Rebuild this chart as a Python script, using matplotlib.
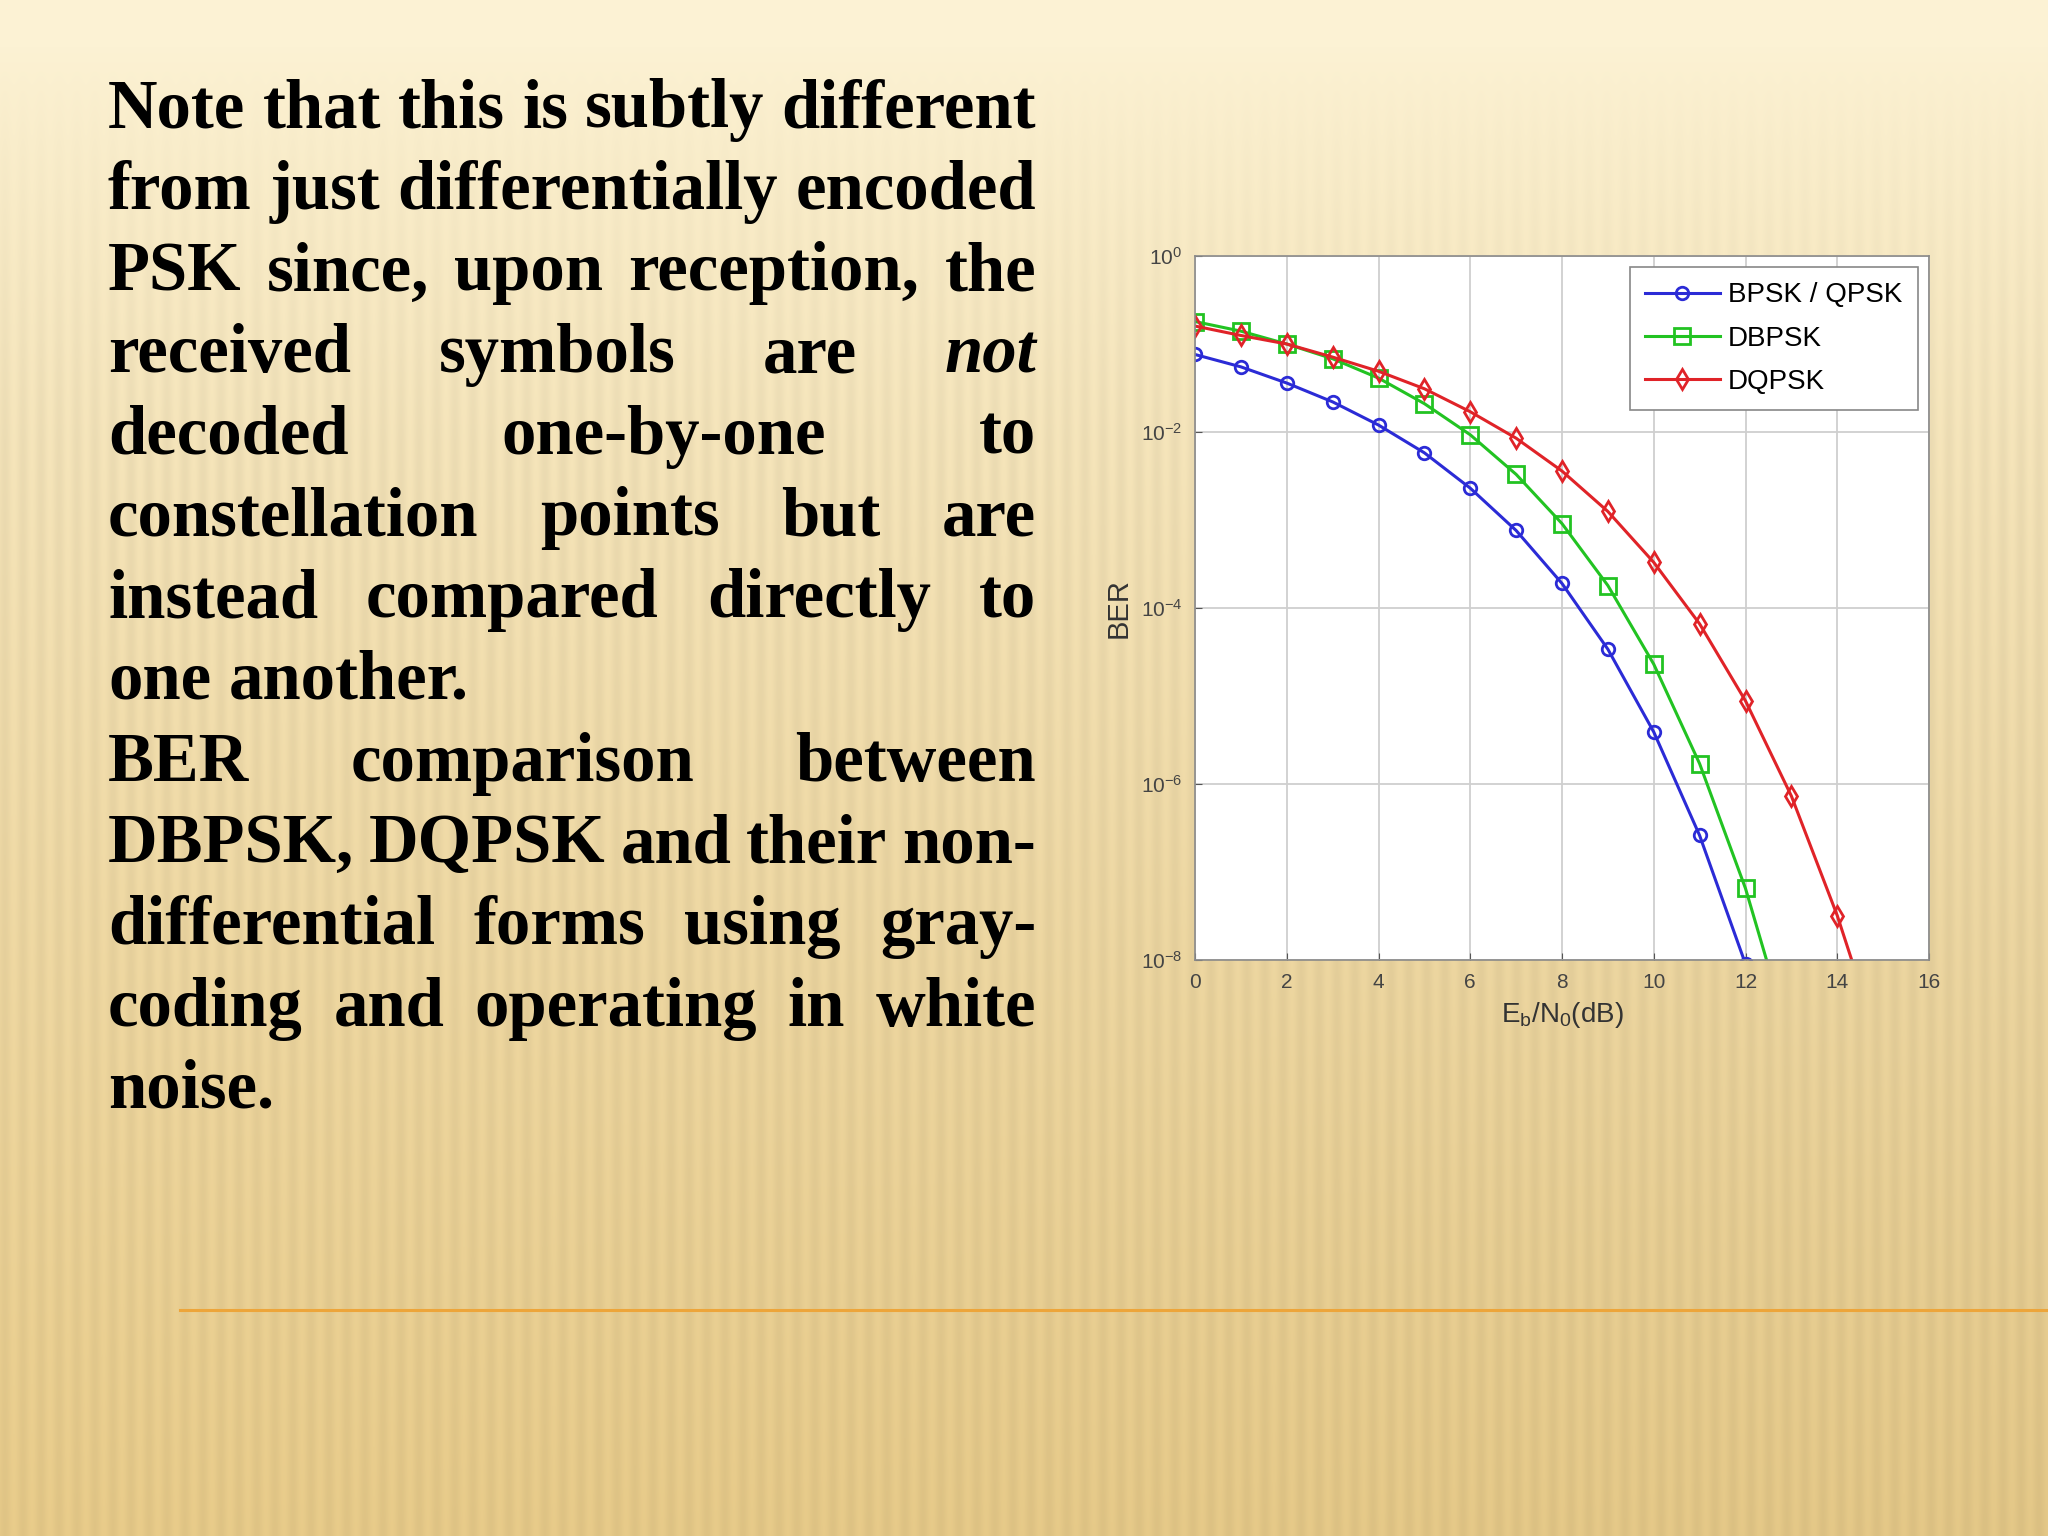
import numpy as np
import matplotlib
matplotlib.use('Agg')
import matplotlib.pyplot as plt
from matplotlib.lines import Line2D
from matplotlib.transforms import IdentityTransform
from matplotlib.ticker import NullLocator

plt.rcParams['font.family'] = ['Liberation Sans', 'DejaVu Sans']
plt.rcParams['mathtext.default'] = 'regular'

# ---------------- data ----------------
ebn0_bpsk = [0, 1, 2, 3, 4, 5, 6, 7, 8, 9, 10, 11, 12]
ber_bpsk = [0.076, 0.055, 0.036, 0.022, 0.012, 0.0058, 0.0023, 7.6e-4, 1.9e-4,
            3.4e-5, 3.9e-6, 2.6e-7, 9.0e-9]
ebn0_dbpsk = [0, 1, 2, 3, 4, 5, 6, 7, 8, 9, 10, 11, 12, 13]
ber_dbpsk = [0.18, 0.14, 0.10, 0.068, 0.041, 0.021, 0.0093, 0.0033, 9.1e-4,
             1.8e-4, 2.3e-5, 1.7e-6, 6.5e-8, 1.1e-9]
ebn0_dqpsk = [0, 1, 2, 3, 4, 5, 6, 7, 8, 9, 10, 11, 12, 13, 14, 15]
ber_dqpsk = [0.16, 0.125, 0.10, 0.071, 0.049, 0.031, 0.017, 0.0085, 0.0036,
             0.00125, 3.3e-4, 6.6e-5, 8.8e-6, 7.3e-7, 3.2e-8, 8e-10]
series_labels = ['BPSK / QPSK', 'DBPSK', 'DQPSK']
x_ticks = [0, 2, 4, 6, 8, 10, 12, 14, 16]
y_ticks = [1e0, 1e-2, 1e-4, 1e-6, 1e-8]

paragraph_lines = [
    ("Note that this is subtly different", True),
    ("from just differentially encoded", True),
    ("PSK since, upon reception, the", True),
    ("received symbols are *not*", True),
    ("decoded one-by-one to", True),
    ("constellation points but are", True),
    ("instead compared directly to", True),
    ("one another.", False),
    ("BER comparison between", True),
    ("DBPSK, DQPSK and their non-", True),
    ("differential forms using gray-", True),
    ("coding and operating in white", True),
    ("noise.", False),
]

# ---------------- figure & background ----------------
W, H = 2048, 1536
fig = plt.figure(figsize=(W / 100, H / 100), dpi=100)
bg = fig.add_axes([0, 0, 1, 1])
bg.axis('off')
yy = np.linspace(0, 1, H)[:, None]
xx = np.arange(W)[None, :]
top = np.array([252, 242, 212]) / 255
bot = np.array([233, 204, 138]) / 255
t = np.clip((yy - 0.03) / 0.97, 0, 1) ** 0.8
base = top[None, None, :] * (1 - t)[:, :, None] + bot[None, None, :] * t[:, :, None]
base = np.broadcast_to(base, (H, W, 3)).copy()
amp = 0.04 * np.clip((yy - 0.04) / 0.25, 0, 1)
s = 0.5 + 0.5 * np.sin(2 * np.pi * xx / 18.0)
shade = 1 - amp * s - 0.02 * (xx / W) * np.clip((yy - 0.3) / 0.5, 0, 1)
img = np.clip(base * shade[:, :, None], 0, 1)
bg.imshow(img, aspect='auto', extent=[0, 1, 0, 1], zorder=0)
bg.set_xlim(0, 1)
bg.set_ylim(0, 1)

fig.add_artist(Line2D([180 / W, 1], [1 - 1310 / H] * 2, color='#EDA53A', lw=2.2,
                      transform=fig.transFigure))

# ---------------- justified text ----------------
left_px, right_px = 108, 1036
base0, pitch = 127, 81.7
renderer = fig.canvas.get_renderer()
probe = fig.text(0, 0, paragraph_lines[0][0], fontsize=47, family='Liberation Serif',
                 weight='bold', transform=IdentityTransform())
fs = 47 * (right_px - left_px) / probe.get_window_extent(renderer).width
probe.remove()
space_px = 0.25 * fs * 100 / 72
for i, (line, justify) in enumerate(paragraph_lines):
    y = H - (base0 + i * pitch)
    words = line.split(' ')
    objs = []
    for w in words:
        italic = w.startswith('*') and w.endswith('*')
        txt = w.strip('*') if italic else w
        o = fig.text(0, y, txt, fontsize=fs, family='Liberation Serif',
                     weight='bold', style='italic' if italic else 'normal',
                     color='black', transform=IdentityTransform(),
                     ha='left', va='baseline')
        objs.append(o)
    widths = [o.get_window_extent(renderer).width for o in objs]
    if justify and len(objs) > 1:
        gap = (right_px - left_px - sum(widths)) / (len(objs) - 1)
    else:
        gap = space_px
    x = left_px
    for o, wd in zip(objs, widths):
        o.set_position((x, y))
        x += wd + gap

# ---------------- chart ----------------
ax = fig.add_axes([1195 / W, 1 - 960 / H, (1929 - 1195) / W, (960 - 256) / H])
ax.set_facecolor('white')
blue, green, red = '#2B2BD6', '#22C322', '#E02328'
ax.semilogy(ebn0_bpsk, ber_bpsk, '-o', color=blue, mfc='none', ms=9, mew=2,
            lw=2.2, label=series_labels[0])
ax.semilogy(ebn0_dbpsk, ber_dbpsk, '-s', color=green, mfc='none', ms=12, mew=2,
            lw=2.2, label=series_labels[1])
ax.semilogy(ebn0_dqpsk, ber_dqpsk, '-d', color=red, mfc='none', ms=10, mew=2,
            lw=2.2, label=series_labels[2])
ax.set_xlim(0, 16)
ax.set_ylim(1e-8, 1)
ax.set_xticks(x_ticks)
ax.set_yticks(y_ticks)
ax.yaxis.set_minor_locator(NullLocator())
ax.grid(True, color='#CFCFCF', lw=1.3)
ax.set_axisbelow(True)
for sp in ax.spines.values():
    sp.set_color('#8A8A8A')
    sp.set_linewidth(1.2)
ax.tick_params(direction='in', length=5, labelsize=15, colors='#555555',
               labelcolor='#444444', pad=9)
ax.set_ylabel('BER', fontsize=21, color='#333333', labelpad=6)
ax.set_xlabel(r'E$_b$/N$_0$(dB)', fontsize=20, color='#333333', labelpad=6)
leg = ax.legend(loc='upper right', fontsize=20, fancybox=False, framealpha=1,
                edgecolor='#888888', borderaxespad=0.4, handlelength=2.7,
                handletextpad=0.3, labelspacing=0.62, borderpad=0.55)
leg.get_frame().set_linewidth(1.2)

fig.savefig('out.png', dpi=100)
